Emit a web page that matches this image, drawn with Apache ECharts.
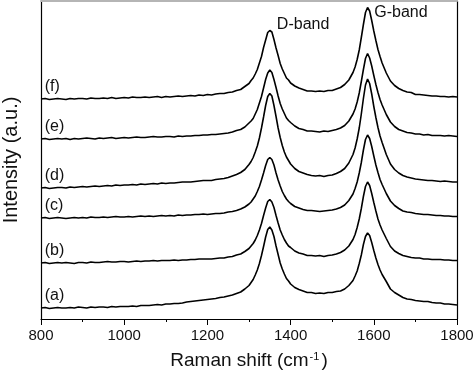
<!DOCTYPE html>
<html>
<head>
<meta charset="utf-8">
<script src="https://cdn.jsdelivr.net/npm/echarts@6/dist/echarts.min.js"></script>
<style>
  html, body { margin: 0; padding: 0; background: #fff; }
  #chart { width: 474px; height: 375px; }
</style>
</head>
<body>
<div id="chart"></div>
<script>
// Raman shift (cm-1) sample positions, denser around the D and G bands
const shift = [
  800, 810, 820, 830, 840, 850, 860, 870, 880, 890,
  900, 910, 920, 930, 940, 950, 960, 970, 980, 990,
  1000, 1010, 1020, 1030, 1040, 1050, 1060, 1070, 1080, 1090,
  1100, 1110, 1120, 1130, 1140, 1150, 1160, 1170, 1180, 1190,
  1200, 1210, 1220, 1230, 1240, 1250, 1260, 1270, 1280, 1290, 1300,
  1305, 1310, 1315, 1320, 1325, 1330, 1335, 1340, 1345, 1350,
  1355, 1360, 1365, 1370, 1375, 1380, 1385, 1390, 1395, 1400,
  1410, 1420, 1430, 1440, 1450, 1460, 1470, 1480, 1490, 1500, 1510, 1520, 1530, 1540, 1550,
  1555, 1560, 1565, 1570, 1575, 1580, 1585, 1590, 1595, 1600, 1605, 1610, 1615, 1620,
  1630, 1640, 1650, 1660, 1670, 1680, 1690, 1700, 1710, 1720, 1730, 1740, 1750, 1760, 1770, 1780, 1790, 1800
];

// intensities (a.u., curves offset vertically as in the figure)
const specA = [
  11, 11.5, 10.5, 11, 11.5, 11, 11, 11.5, 11, 12,
  11.5, 11, 12, 11.5, 12, 12, 11.5, 12.5, 12, 12.5,
  12.5, 12.5, 13, 12.5, 13.5, 13.5, 13.5, 14, 14.5, 14,
  15, 15, 15.5, 15.5, 16, 17, 17.5, 18, 18.5, 19,
  19.5, 20, 20.5, 21.5, 22, 23, 24, 25.5, 27, 30, 33.5,
  36.5, 39.5, 44, 49, 55.5, 63.5, 72.5, 82, 89.5, 92,
  89, 82.5, 73, 64.5, 56, 50, 45, 40.5, 38, 35,
  31.5, 29.5, 28, 26.5, 26.5, 25.5, 26, 25.5, 26.5, 26.5, 27.5, 28, 30, 33.5, 38.5,
  43, 48, 55.5, 64, 74.5, 82.5, 86, 83.5, 76.5, 68.5, 61, 54.5, 49, 44.5,
  37.5, 30, 26.5, 24, 21.5, 20, 19.5, 18.5, 18, 17.5, 17.5, 16.5, 16, 16, 15, 15, 14.5, 14
];
const specB = [
  56, 56.5, 55.5, 56, 56.5, 56, 56.5, 56, 55.5, 56.5,
  56.5, 56, 57, 56.5, 56.5, 57, 57.5, 57, 57, 57.5,
  57.5, 57, 57.5, 58, 57.5, 58, 58, 58.5, 58, 58.5,
  58.5, 58.5, 59, 58.5, 59, 59, 59.5, 59.5, 60, 60,
  60, 60, 60.5, 61, 61, 62, 62.5, 64, 65, 67.5, 70.5,
  73, 75.5, 79, 83.5, 89, 95.5, 103.5, 111, 117.5, 119.5,
  117, 111.5, 103.5, 96, 89, 84, 79.5, 76, 73, 71.5,
  68, 66, 65, 63.5, 63.5, 63, 63.5, 62.5, 63.5, 64, 65, 66.5, 69, 73, 79.5,
  84.5, 91.5, 100, 110.5, 122.5, 132.5, 137, 133.5, 125.5, 116.5, 108, 100, 94, 89,
  80.5, 72.5, 68, 65.5, 63.5, 62.5, 61.5, 61, 61, 60, 60, 59.5, 59.5, 59.5, 59, 59, 58.5, 58.5
];
const specC = [
  101, 101.5, 100.5, 101, 101.5, 101, 100.5, 101, 101.5, 101,
  101.5, 101, 102, 101.5, 101.5, 102, 101.5, 102, 102.5, 102,
  102, 102.5, 102, 102.5, 103, 102.5, 103, 102.5, 103, 103.5,
  103, 103.5, 103, 104, 103.5, 104, 104, 104.5, 104.5, 105,
  104.5, 105, 105.5, 105.5, 106, 107, 107.5, 108.5, 110, 112, 115,
  117, 120, 123, 127.5, 132.5, 139, 146, 153.5, 159.5, 161.5,
  159.5, 154, 146, 139, 133, 127.5, 123.5, 120, 117.5, 115.5,
  112.5, 111, 109.5, 108.5, 108.5, 108, 107.5, 108, 108.5, 109, 110, 111.5, 114, 118.5, 125,
  130.5, 137, 146, 156.5, 169, 179.5, 184, 180.5, 172.5, 163, 154, 146.5, 139.5, 134.5,
  125.5, 118, 113.5, 110.5, 108, 107, 106.5, 105.5, 105, 104.5, 104.5, 104, 103.5, 103.5, 103, 103, 102.5, 102.5
];
const specD = [
  131, 131.5, 130.5, 131, 131.5, 131.5, 131, 132, 131.5, 132,
  132.5, 132, 132.5, 133, 132.5, 133, 133.5, 133, 134, 133.5,
  134, 134, 134.5, 134, 135, 134.5, 135, 135.5, 135, 136,
  135.5, 136, 136, 136.5, 137, 137, 137, 137.5, 138, 138.5,
  138.5, 138.5, 139.5, 140, 140.5, 141.5, 143, 144.5, 146.5, 149.5, 154.5,
  157.5, 161.5, 167, 173, 181, 191, 202, 213.5, 222.5, 225.5,
  223, 213.5, 202.5, 191, 181.5, 173.5, 167, 162, 158.5, 155,
  150.5, 147.5, 146, 144.5, 143.5, 143, 143.5, 142.5, 143.5, 144, 145.5, 147.5, 150.5, 156, 164.5,
  171, 180, 191, 205, 220.5, 234, 240, 235.5, 225, 212.5, 201.5, 191.5, 183, 176.5,
  164.5, 155, 149.5, 146, 143.5, 142, 141, 140, 139.5, 139, 138.5, 138.5, 138, 137.5, 138, 137.5, 137, 137
];
const specE = [
  180, 180.5, 179.5, 180, 180.5, 180, 180.5, 179.5, 180.5, 180,
  180.5, 181, 180.5, 180, 181, 180.5, 181, 181.5, 180.5, 181,
  181.5, 181, 181.5, 182, 181.5, 181.5, 182, 182.5, 182, 182,
  182.5, 182.5, 182, 183, 182.5, 183, 183, 183.5, 183.5, 184,
  184, 184.5, 184.5, 185, 185.5, 186, 187, 188.5, 189.5, 192, 196,
  198, 200.5, 205, 209.5, 216, 222.5, 231, 239.5, 246, 249,
  246.5, 239.5, 231.5, 223, 215.5, 210, 205.5, 201, 198.5, 196.5,
  193, 190.5, 189.5, 188, 188, 187.5, 187, 188, 187.5, 188.5, 189.5, 191, 193.5, 198, 205,
  210, 217, 226, 237.5, 249.5, 260.5, 265.5, 261, 253, 243.5, 234.5, 226.5, 219.5, 214,
  204.5, 197, 192.5, 189.5, 188, 186.5, 186, 185, 185, 184, 184.5, 183.5, 183.5, 183.5, 183, 183.5, 183, 182.5
];
const specF = [
  220, 220.5, 219.5, 220, 220.5, 220, 219.5, 220.5, 220, 220.5,
  220.5, 220, 221, 220.5, 220.5, 221, 220.5, 221.5, 220.5, 221,
  221.5, 221, 222, 221.5, 221.5, 222, 221.5, 222, 222.5, 221.5,
  222.5, 222, 222.5, 223, 222.5, 223, 223.5, 223, 224, 223.5,
  224.5, 224, 225, 225.5, 225.5, 226.5, 227, 228.5, 229.5, 232.5, 235.5,
  238.5, 241, 245, 249.5, 256, 262.5, 271.5, 279, 286.5, 288.5,
  287, 279.5, 271, 263.5, 255.5, 250, 245.5, 241, 239, 236,
  233, 231, 229.5, 228, 228, 227.5, 228, 227.5, 228.5, 228.5, 230, 231.5, 234.5, 239, 246.5,
  252, 259.5, 269, 281.5, 294.5, 306.5, 311.5, 308, 298.5, 288, 278.5, 269.5, 262.5, 256,
  246, 238, 233.5, 230.5, 228.5, 227, 226.5, 224.5, 224.5, 224, 223.5, 223, 223, 222.5, 222.5, 222, 222.5, 222
];

const curveNames = ['(a)', '(b)', '(c)', '(d)', '(e)', '(f)'];
const xTicks = [800, 1000, 1200, 1400, 1600, 1800];

const FONT = '"Liberation Sans", Arial, Helvetica, sans-serif';
const INK = '#111';

const chart = echarts.init(document.getElementById('chart'), null, { renderer: 'canvas' });

const spectra = [specA, specB, specC, specD, specE, specF];

const series = spectra.map((ys, i) => {
  const marks = [{ name: curveNames[i], coord: [809, ys[0] + 12] }];
  if (i === 5) {
    // band annotations sit next to the top curve's peaks
    marks.push({ name: 'D-band', coord: [1367, 294] });
    marks.push({ name: 'G-band', coord: [1601, 306] });
  }
  return {
    name: curveNames[i],
    type: 'line',
    data: shift.map((x, k) => [x, ys[k]]),
    symbol: 'none',
    showSymbol: false,
    smooth: false,
    lineStyle: { color: '#000', width: 1.6 },
    animation: false,
    markPoint: {
      symbol: 'circle',
      symbolSize: 0,
      silent: true,
      animation: false,
      label: {
        show: true,
        position: 'right',
        distance: 0,
        color: INK,
        fontSize: 16,
        fontFamily: FONT,
        formatter: p => p.name
      },
      data: marks
    }
  };
});

const option = {
  backgroundColor: '#fff',
  animation: false,
  grid: {
    left: 41, right: 17, top: 1, bottom: 56,
    containLabel: false,
    outerBoundsMode: 'none'
  },
  xAxis: [{
    type: 'value',
    min: xTicks[0],
    max: xTicks[xTicks.length - 1],
    interval: 200,
    name: 'Raman shift (cm{sup|-1})',
    nameLocation: 'middle',
    nameGap: 32,
    nameTextStyle: {
      fontSize: 19, color: INK, fontFamily: FONT,
      rich: {
        sup: { fontSize: 11, color: INK, fontFamily: FONT, verticalAlign: 'top', padding: [0, 2, 0, 1] }
      }
    },
    axisLine: { show: true, onZero: false, lineStyle: { color: '#000', width: 1.2 } },
    axisTick: { show: true, inside: false, length: 6, lineStyle: { color: '#000', width: 1 } },
    minorTick: { show: true, splitNumber: 2, length: 3, lineStyle: { color: '#000', width: 1 } },
    axisLabel: { fontSize: 15, color: INK, margin: 9, fontFamily: FONT, formatter: v => String(v) },
    splitLine: { show: false },
    minorSplitLine: { show: false }
  }, {
    type: 'value',
    position: 'top',
    min: xTicks[0],
    max: xTicks[xTicks.length - 1],
    axisLine: { show: true, onZero: false, lineStyle: { color: '#b5b5b5', width: 2 } },
    axisTick: { show: false },
    axisLabel: { show: false },
    splitLine: { show: false }
  }],
  yAxis: [{
    type: 'value',
    min: 0,
    max: 318,
    name: 'Intensity (a.u.)',
    nameLocation: 'middle',
    nameGap: 20,
    nameTextStyle: { fontSize: 20, color: INK, fontFamily: FONT },
    axisLine: { show: true, lineStyle: { color: '#000', width: 1.2 } },
    axisTick: { show: false },
    axisLabel: { show: false },
    splitLine: { show: false }
  }, {
    type: 'value',
    position: 'right',
    min: 0,
    max: 318,
    axisLine: { show: true, lineStyle: { color: '#000', width: 1.2 } },
    axisTick: { show: false },
    axisLabel: { show: false },
    splitLine: { show: false }
  }],
  series
};

chart.setOption(option);
</script>
</body>
</html>
